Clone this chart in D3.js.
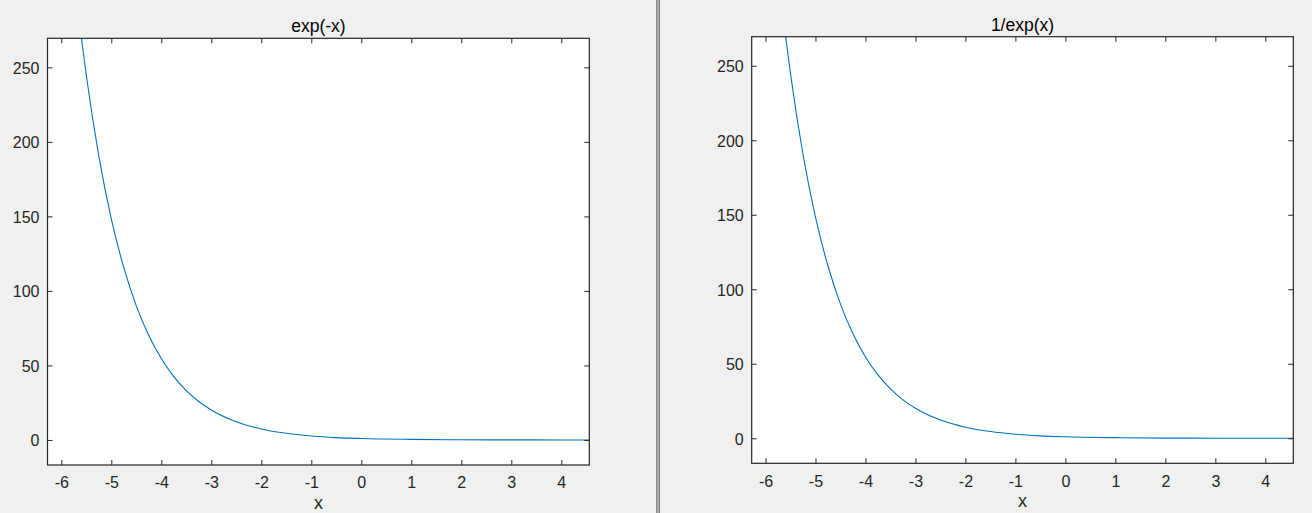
<!DOCTYPE html>
<html lang="en">
<head>
<meta charset="utf-8">
<title>exp(-x) vs 1/exp(x)</title>
<script src="https://d3js.org/d3.v7.min.js"></script>
<style>
  body { margin: 0; background: #f0f0f0; font-family: "Liberation Sans", Arial, Helvetica, sans-serif; }
  svg { display: block; }
  .tick text { fill: #262626; font-size: 16px; }
</style>
</head>
<body>
<div id="chart"></div>
<script>
// values (same curve in both panels)
var xValues = [-5.6, -5.5, -5.25, -5, -4.75, -4.5, -4.25, -4, -3.75, -3.5, -3.25, -3,
               -2.5, -2, -1.5, -1, -0.5, 0, 1, 2, 3, 4, 4.56]
var yValues = [270.4, 244.7, 190.6, 148.4, 115.6, 90.0, 70.1, 54.6, 42.5, 33.1, 25.8, 20.1,
               12.2, 7.4, 4.5, 2.7, 1.6, 1.0, 0.4, 0.1, 0.05, 0.02, 0.01]
var titles = ["exp(-x)", "1/exp(x)"]
var xTicks = [-6, -5, -4, -3, -2, -1, 0, 1, 2, 3, 4]
var yTicks = [0, 50, 100, 150, 200, 250]
var xDomain = [-6.276, 4.56]
var yDomain = [-16.8, 269.5]

var W = 1312, H = 513
var panels = [
  {left: 47.5, right: 589.3, top: 38.3, bottom: 465},
  {left: 751.7, right: 1293.3, top: 36.7, bottom: 463.3}
]

var svg = d3.select("#chart").append("svg").attr("width", W).attr("height", H)
svg.append("rect").attr("width", W).attr("height", H).attr("fill", "#f0f0f0")

// window splitter between the two figures
svg.append("rect").attr("x", 656).attr("y", 0).attr("width", 4).attr("height", H).attr("fill", "#ababab")
svg.append("line").attr("x1", 656.5).attr("x2", 656.5).attr("y1", 0).attr("y2", H).attr("stroke", "#8a8a8a")
svg.append("line").attr("x1", 659.5).attr("x2", 659.5).attr("y1", 0).attr("y2", H).attr("stroke", "#7a7a7a")

var data = xValues.map(function(x, i) { return {x: x, y: yValues[i]} })
var plain = function(d) { return String(d) }   // hyphen minus, like the original

panels.forEach(function(p, k) {
  var x = d3.scaleLinear().domain(xDomain).range([p.left, p.right])
  var y = d3.scaleLinear().domain(yDomain).range([p.bottom, p.top])
  var g = svg.append("g")

  g.append("rect").attr("x", p.left).attr("y", p.top)
    .attr("width", p.right - p.left).attr("height", p.bottom - p.top).attr("fill", "#fff")

  g.append("clipPath").attr("id", "clip" + k).append("rect")
    .attr("x", p.left).attr("y", p.top).attr("width", p.right - p.left).attr("height", p.bottom - p.top)

  var line = d3.line().x(function(d) { return x(d.x) }).y(function(d) { return y(d.y) }).curve(d3.curveMonotoneX)
  g.append("path").datum(data).attr("clip-path", "url(#clip" + k + ")")
    .attr("d", line).attr("fill", "none").attr("stroke", "#0072bd").attr("stroke-width", 1.1)

  // axes with inward ticks on all four sides
  g.append("g").attr("transform", "translate(0," + p.bottom + ")")
    .call(d3.axisBottom(x).tickValues(xTicks).tickFormat(plain).tickSizeInner(-5).tickSizeOuter(0).tickPadding(12))
  var leftAxis = g.append("g").attr("transform", "translate(" + p.left + ",0)")
    .call(d3.axisLeft(y).tickValues(yTicks).tickFormat(plain).tickSizeInner(-5).tickSizeOuter(0).tickPadding(8))
  g.append("g").attr("transform", "translate(0," + p.top + ")")
    .call(d3.axisTop(x).tickValues(xTicks).tickSizeInner(-5).tickSizeOuter(0).tickFormat(""))
  g.append("g").attr("transform", "translate(" + p.right + ",0)")
    .call(d3.axisRight(y).tickValues(yTicks).tickSizeInner(-5).tickSizeOuter(0).tickFormat(""))

  g.selectAll(".domain").remove()
  g.selectAll(".tick line").attr("stroke", "#262626")
  leftAxis.selectAll("text").attr("dy", "0.36em")

  g.append("rect").attr("x", p.left).attr("y", p.top)
    .attr("width", p.right - p.left).attr("height", p.bottom - p.top)
    .attr("fill", "none").attr("stroke", "#262626").attr("stroke-width", 1.2)

  g.append("text").attr("x", (p.left + p.right) / 2).attr("y", p.top - 6)
    .attr("text-anchor", "middle").attr("fill", "#000").attr("font-size", "17.5px").text(titles[k])

  g.append("text").attr("x", (p.left + p.right) / 2).attr("y", p.bottom + 44)
    .attr("text-anchor", "middle").attr("fill", "#262626").attr("font-size", "18px").text("x")
})
</script>
</body>
</html>
